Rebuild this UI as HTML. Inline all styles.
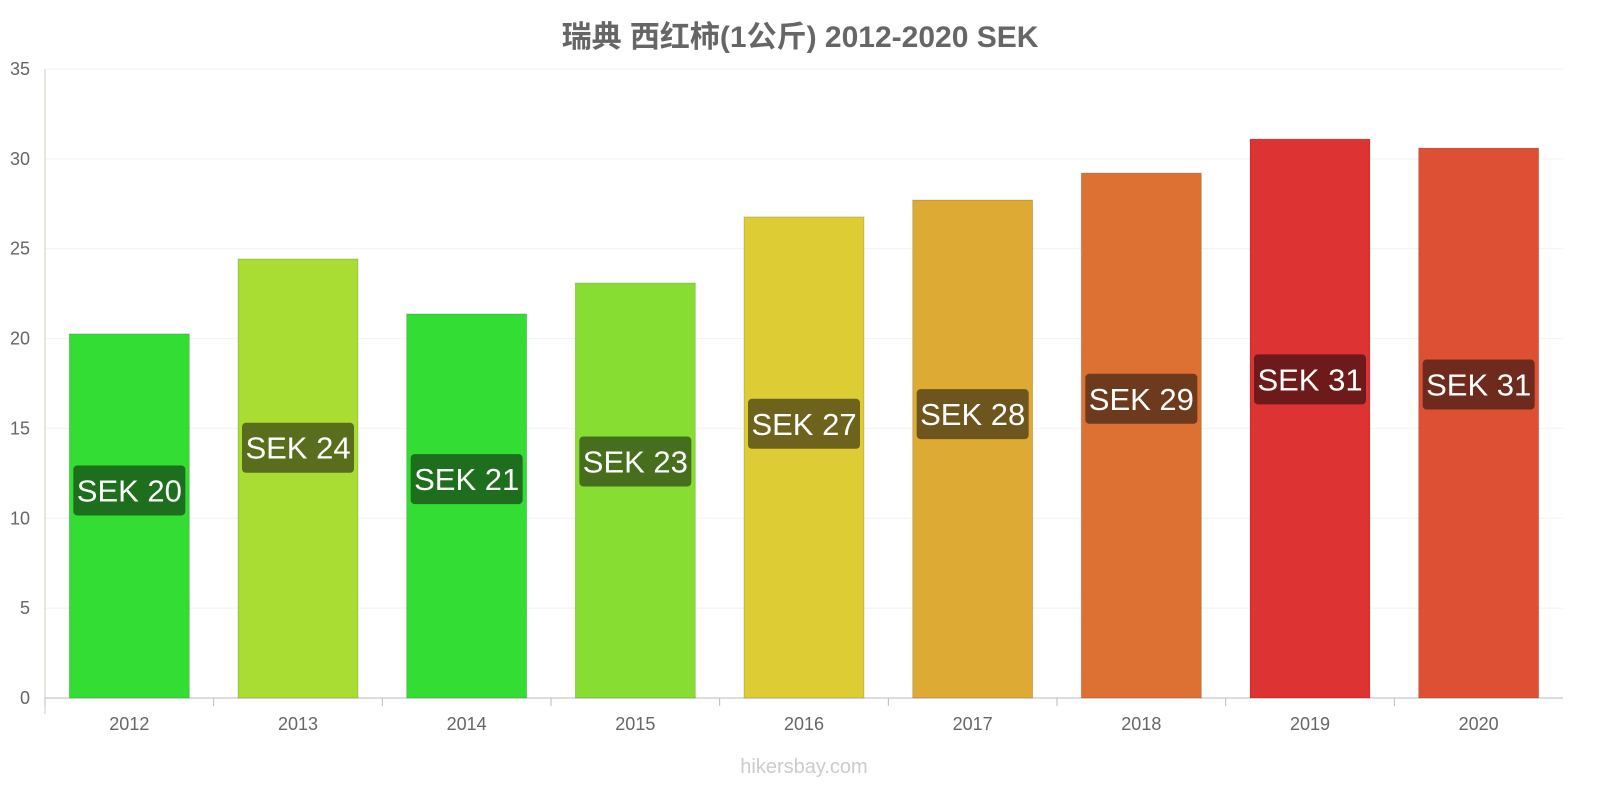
<!DOCTYPE html>
<html><head><meta charset="utf-8"><style>
body{margin:0;background:#fff;}
svg{display:block;font-family:"Liberation Sans","Noto Sans CJK SC",sans-serif;}
</style></head><body>
<svg id="chart" width="1600" height="800">
<text x="800" y="47" text-anchor="middle" font-size="30" font-weight="bold" fill="#666">瑞典 西红柿(1公斤) 2012-2020 SEK</text>
<g id="grid"></g><g id="bars"></g><g id="labels"></g>
<text x="804" y="773" text-anchor="middle" font-size="20" fill="#ccc">hikersbay.com</text>
</svg>
<script>
const categories=["2012","2013","2014","2015","2016","2017","2018","2019","2020"];
const values=[20.26,24.43,21.37,23.09,26.77,27.71,29.21,31.1,30.6];
const printed=["SEK 20","SEK 24","SEK 21","SEK 23","SEK 27","SEK 28","SEK 29","SEK 31","SEK 31"];
const yTicks=[0,5,10,15,20,25,30,35];
const colors=["#33dd33","#aadd33","#33dd33","#88dd33","#ddcc33","#ddaa33","#dd7033","#dd3333","#dd5033"];
const labelBg=["#1d6e1d","#586e1d","#1d6e1d","#466e1d","#6e631d","#6e541d","#6e3a1d","#6e1a1a","#6e2b1d"];
const NS="http://www.w3.org/2000/svg";
const x0=45,x1=1563,yBase=698,yTop=69,yMax=35;
const band=(x1-x0)/categories.length;
const y=v=>yBase-(v/yMax)*(yBase-yTop);
const xc=i=>x0+band*(i+0.5);
function mk(tag,attrs,parent){const e=document.createElementNS(NS,tag);for(const k in attrs)e.setAttribute(k,attrs[k]);parent.appendChild(e);return e;}
const grid=document.getElementById('grid'),bars=document.getElementById('bars'),labels=document.getElementById('labels');
yTicks.forEach(t=>{
  const l=mk('line',{x1:x0,x2:x1,y1:y(t),y2:y(t),stroke:t===0?'#bbb':'#f2f2f2'},grid);
  
  
  const tx=mk('text',{x:30,y:y(t)+6,'text-anchor':'end','font-size':18,fill:'#666'},grid);
  tx.textContent=t;
  
  
});
const ax=mk('line',{x1:x0,x2:x0,y1:yTop,y2:714,stroke:'#c8d0b8'},grid);


categories.forEach((c,i)=>{
  const w=120,cx=xc(i);
  const r=mk('rect',{x:cx-w/2,y:y(values[i]),width:w,height:yBase-y(values[i]),fill:colors[i],stroke:'rgba(0,0,0,0.15)'},bars);
  
  
  const tk=mk('line',{x1:x0+band*i,x2:x0+band*i,y1:yBase,y2:yBase+8,stroke:'#bbb'},grid);
  
  
  const xt=mk('text',{x:cx,y:730,'text-anchor':'middle','font-size':18,fill:'#666'},grid);
  xt.textContent=c;
  
  
  const ly=y(values[i]*0.57);
  const lb=mk('rect',{x:cx-56,y:ly-25,width:112,height:50,rx:4,fill:labelBg[i]},labels);
  
  
  const lt=mk('text',{x:cx,y:ly+11,'text-anchor':'middle','font-size':31,fill:'#fff'},labels);
  lt.textContent=printed[i];
  
  
});
</script>
</body></html>
